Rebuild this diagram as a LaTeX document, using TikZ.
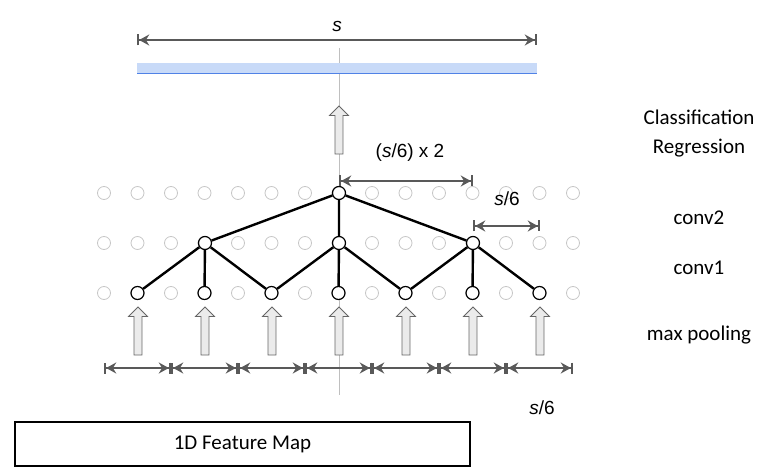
\documentclass[tikz,border=0pt]{standalone}
\usepackage{fontspec}
\setmainfont{Carlito}
\newfontfamily\arialf{Liberation Sans}
\usetikzlibrary{arrows.meta,shapes.arrows}
\definecolor{barblue}{RGB}{200,218,248}
\definecolor{lineblue}{RGB}{80,130,230}
\begin{document}
\begin{tikzpicture}[x=1pt,y=-1pt,
	cell/.style={circle, draw=black!22, line width=0.8pt, fill=white, minimum size=13pt, inner sep=0pt},
	unit/.style={circle, draw=black, line width=1.2pt, fill=white, minimum size=13pt, inner sep=0pt},
	link/.style={line width=2.4pt},
	dim/.style={draw=black!65, line width=2.2pt, {Bar[width=11pt]Stealth[length=10pt,width=11pt]}-{Stealth[length=10pt,width=11pt]Bar[width=11pt]}},
	uparrow/.style={single arrow, shape border rotate=90, draw=black!60, line width=0.8pt, fill=black!8, minimum height=48pt, minimum width=19pt, single arrow head extend=4pt, inner sep=2.5pt},
	lbl/.style={font=\fontsize{21}{25}\selectfont},
	slbl/.style={font=\arialf\fontsize{19}{22}\selectfont}]
	\useasboundingbox (0,0) rectangle (780,476);

	% centre line
	\draw [black!25] (339,48) -- (339,395);

	% background grid
	\foreach \row/\y in {1/193,2/243,3/293}
		\foreach \c in {0,...,14}
			\node [cell] (g\row-\c) at (104+33.5*\c,\y) {};

	% pooled units
	\foreach \c [count=\i] in {1,3,5,7,9,11,13}
		\node [unit] (p\i) at (104+33.5*\c,293) {};
	\node [unit] (c1) at (205,243) {};
	\node [unit] (c2) at (339,243) {};
	\node [unit] (c3) at (473,243) {};
	\node [unit] (top) at (339,193) {};

	% connections
	\draw [link] (p1) -- (c1) (p2) -- (c1) (p3) -- (c1);
	\draw [link] (p3) -- (c2) (p4) -- (c2) (p5) -- (c2);
	\draw [link] (p5) -- (c3) (p6) -- (c3) (p7) -- (c3);
	\draw [link] (c1) -- (top) (c2) -- (top) (c3) -- (top);

	% max pooling arrows
	\foreach \i in {1,...,7}
		\node [uparrow] (a\i) at (138+67*\i-67,333) {};
	\node [uparrow] (aup) at (339,132) {};

	% bins
	\foreach \i in {0,...,7}
		\coordinate (b\i) at (104+67*\i,368);
	\foreach \i [evaluate=\i as \j using int(\i+1)] in {0,...,6}
		\draw [dim] (b\i) -- (b\j);

	% output bar
	\fill [barblue] (137,63) rectangle (537,74);
	\draw [lineblue, line width=1pt] (137,74) -- (537,74);
	\coordinate (sl) at (137,40);
	\coordinate (sr) at (537,40);
	\draw [dim] (sl) -- (sr) node [midway, above=4pt, slbl] {\textit{s}};

	% spans
	\coordinate (d2) at (339,181);
	\coordinate (d2e) at (473,181);
	\draw [dim] (d2) -- (d2e);
	\node [slbl] (t2) at (410,153) {(\textit{s}/6) x 2};
	\coordinate (d1) at (473,226);
	\coordinate (d1e) at (540,226);
	\draw [dim] (d1) -- (d1e);
	\node [slbl] (t1) at (507,199) {\textit{s}/6};
	\node [slbl] (t0) at (542,408) {\textit{s}/6};

	% layer labels
	\node [lbl, align=center] (cls) at (699,134) {Classification\\[4pt]Regression};
	\node [lbl] (l2) at (699,218) {conv2};
	\node [lbl] (l1) at (699,268) {conv1};
	\node [lbl] (lmp) at (699,335) {max pooling};

	% feature map
	\node [draw, line width=1.2pt, minimum width=455pt, minimum height=44pt, lbl] (fm) at (242.5,444) {1D Feature Map};
\end{tikzpicture}
\end{document}
